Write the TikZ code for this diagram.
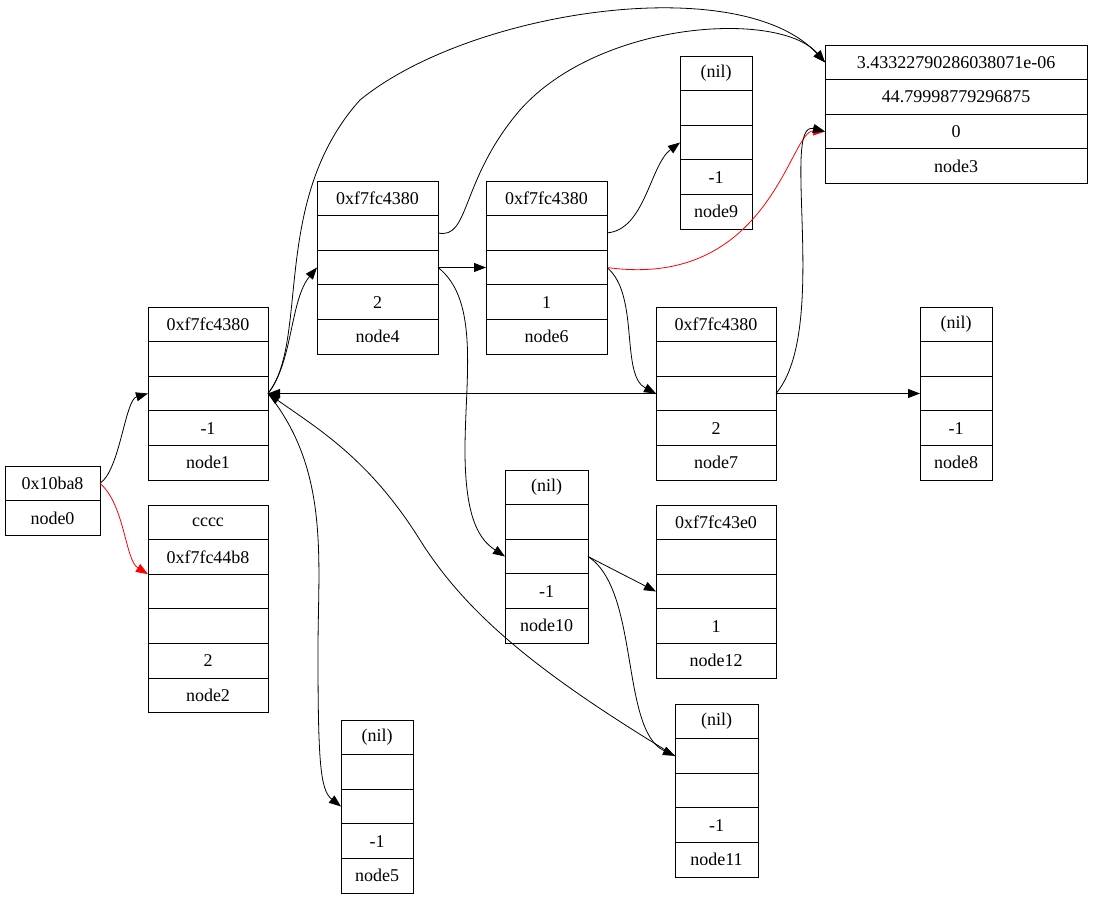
\documentclass[tikz,border=0pt]{standalone}
\usepackage{fontspec}
\setmainfont{Liberation Serif}
\usetikzlibrary{arrows.meta}
\tikzset{fld/.style={draw,anchor=north west,outer sep=0,inner sep=0,minimum height=34.6,line width=0.8pt,font=\fontsize{18}{20}\selectfont},
  edge/.style={-{Triangle[length=12pt,width=9pt]},line width=0.8pt}}
% record: name, x, y, width, fields
\newcommand\rec[5]{%
  \foreach \t [count=\i] in {#5} {\node[fld,minimum width=#4] (#1r\i) at ({#2},{-#3-(\i-1)*34.6}) {\t};}}
\begin{document}
\begin{tikzpicture}[x=1pt,y=1pt]
\useasboundingbox (0,0) rectangle (1093,-900);

\rec{n0}{5}{466}{95}{0x10ba8,node0}
\rec{n1}{148}{307}{120}{0xf7fc4380,{},{},-1,node1}
\rec{n2}{148}{505}{120}{cccc,0xf7fc44b8,{},{},2,node2}
\rec{n4}{317}{181}{121}{0xf7fc4380,{},{},2,node4}
\rec{n6}{486}{181}{121}{0xf7fc4380,{},{},1,node6}
\rec{n9}{680}{56}{72}{(nil),{},{},-1,node9}
\rec{n3}{825}{45}{262}{3.43322790286038071e-06,44.79998779296875,0,node3}
\rec{n7}{656}{307}{120}{0xf7fc4380,{},{},2,node7}
\rec{n8}{920}{307}{72}{(nil),{},{},-1,node8}
\rec{n10}{505}{470}{83}{(nil),{},{},-1,node10}
\rec{n12}{656}{505}{120}{0xf7fc43e0,{},{},1,node12}
\rec{n5}{341}{720}{72}{(nil),{},{},-1,node5}
\rec{n11}{675}{704}{83}{(nil),{},{},-1,node11}

\draw[edge] (n0r1.east) .. controls (120,-470) and (125,-400) .. (n1r3.west);
\draw[edge,red] (n0r1.east) .. controls (125,-505) and (125,-560) .. (n2r3.north west);
\draw[edge] (n1r3.east) .. controls (293,-362) and (290,-300) .. (n4r3.west);
\draw[edge] (n1r3.east) .. controls (310,-340) and (270,-200) .. (360,-100) .. controls (470,-10) and (740,30) .. (n3r1.west);
\draw[edge] (n4r2.east) .. controls (470,-240) and (460,-180) .. (520,-110) .. controls (600,-20) and (780,-10) .. (n3r1.west);
\draw[edge] (n4r3.east) -- (n6r3.west);
\draw[edge] (n4r3.east) .. controls (480,-300) and (465,-380) .. (465,-450) .. controls (465,-520) and (480,-540) .. (n10r3.west);
\draw[edge] (n6r2.east) .. controls (645,-230) and (650,-165) .. (n9r3.west);
\draw[edge,red] (n6r3.east) .. controls (770,-290) and (790,-130) .. (n3r3.west);
\draw[edge] (n6r3.east) .. controls (640,-295) and (620,-375) .. (n7r3.west);
\draw[edge] (n7r3.east) .. controls (830,-330) and (780,-120) .. (n3r3.west);
\draw[edge] (n7r3.west) -- (n1r3.east);
\draw[edge] (n7r3.east) -- (n8r3.west);
\draw[edge] (n1r3.east) .. controls (330,-470) and (318,-560) .. (318,-650) .. controls (318,-760) and (320,-790) .. (n5r3.west);
\draw[edge] (n11r2.west) .. controls (550,-680) and (470,-620) .. (420,-540) .. controls (370,-460) and (320,-430) .. (n1r3.east);
\draw[edge] (n10r3.east) .. controls (640,-590) and (620,-730) .. (n11r2.west);
\draw[edge] (n10r3.east) -- (n12r3.west);

\end{tikzpicture}
\end{document}
